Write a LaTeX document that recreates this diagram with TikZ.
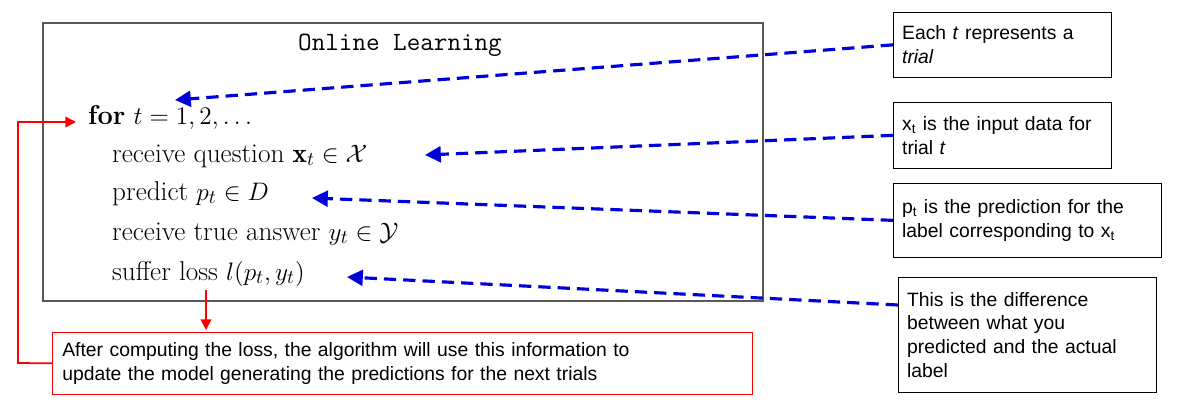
\documentclass[tikz,border=0pt]{standalone}
\usepackage{amsmath,amssymb}
\usepackage{fontspec}
\newfontfamily\arial{Liberation Sans}
\usetikzlibrary{arrows.meta}
\begin{document}
\begin{tikzpicture}[x=0.02cm,y=-0.02cm,
  note/.style={draw,thin,anchor=north west,align=left,font=\arial\fontsize{11}{13.5}\selectfont,inner sep=5pt},
  ln/.style={anchor=base west,font=\fontsize{15.5}{17}\selectfont},
  barr/.style={blue!85!black,line width=1.8pt,dash pattern=on 7pt off 4pt,-{Triangle[length=9pt,width=9pt]}},
  rarr/.style={red,line width=1pt,-{Triangle[length=6pt,width=6pt]}}]
\useasboundingbox (0,0) rectangle (1190,406);
\node[draw=gray!70!black,line width=1.2pt,minimum width=720*0.02cm,minimum height=278*0.02cm,anchor=north west] (main) at (42,22) {};
\node[font=\ttfamily\fontsize{15}{17}\selectfont] (title) at (400,45) {Online Learning};
\node[ln] (l0) at (82,124) {\textbf{for} $t=1,2,\ldots$};
\node[ln] (l1) at (106,162) {receive question $\mathbf{x}_t\in\mathcal{X}$};
\node[ln] (l2) at (106,200) {predict $p_t\in D$};
\node[ln] (l3) at (106,240) {receive true answer $y_t\in\mathcal{Y}$};
\node[ln] (l4) at (106,280) {suffer loss $l(p_t,y_t)$};
\node[note,text width=200*0.02cm,minimum height=65*0.02cm] (n1) at (893,12) {Each \textit{t} represents a\\\textit{trial}};
\node[note,text width=200*0.02cm,minimum height=66*0.02cm] (n2) at (893,102) {x\textsubscript{t} is the input data for\\trial \textit{t}};
\node[note,text width=250*0.02cm,minimum height=74*0.02cm] (n3) at (893,183) {p\textsubscript{t} is the prediction for the\\label corresponding to x\textsubscript{t}};
\node[note,text width=240*0.02cm,minimum height=115*0.02cm] (n4) at (898,277) {This is the difference\\between what you\\predicted and the actual\\label};
\node[draw=red,thin,anchor=north west,minimum width=700*0.02cm,minimum height=62*0.02cm,text width=680*0.02cm,align=left,font=\arial\fontsize{11}{14}\selectfont] (rb) at (52,332) {After computing the loss, the algorithm will use this information to\\update the model generating the predictions for the next trials};
\coordinate (a1) at (175,100);
\coordinate (a2) at (425,155);
\coordinate (a3) at (312,198);
\coordinate (a4) at (347,277);
\draw[barr] (n1.west) -- (a1);
\draw[barr] (n2.west) -- (a2);
\draw[barr] (n3.west) -- (a3);
\draw[barr] (n4.west |- 0,305) -- (a4);
\coordinate (s) at (206,290);
\draw[rarr] (s) -- (206,330);
\coordinate (e) at (76,122);
\draw[rarr] (rb.west) -- (18,363) -- (18,122) -- (e);
\end{tikzpicture}
\end{document}
